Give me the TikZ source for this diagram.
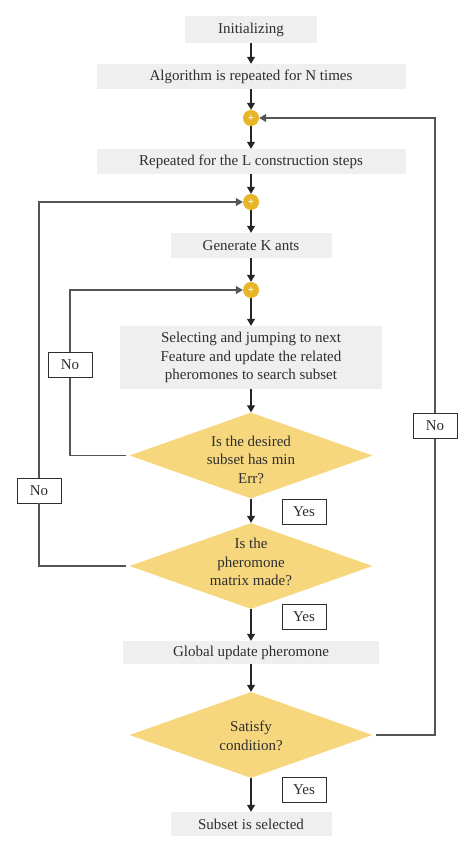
\documentclass[tikz,border=0pt]{standalone}
\usepackage{fontspec}
\setmainfont{Liberation Serif}
\usetikzlibrary{shapes.geometric,arrows.meta}
\definecolor{boxgray}{HTML}{EFEFEF}
\definecolor{diafill}{HTML}{F6D77E}
\definecolor{joingold}{HTML}{E8B527}
\definecolor{txtgray}{HTML}{2E2E2E}
\definecolor{linegray}{HTML}{555555}
\tikzset{
    procbox/.style={fill=boxgray, inner sep=0pt, text=txtgray, align=center},
    decision/.style={diamond, fill=diafill, inner sep=0pt, minimum width=243pt, minimum height=86pt},
    dtext/.style={text=txtgray, align=center},
    junction/.style={circle, fill=joingold, inner sep=0pt, minimum size=16pt, text=white, font=\bfseries\fontsize{11}{11}\selectfont},
    tag/.style={draw=txtgray, fill=white, line width=0.8pt, minimum width=44pt, minimum height=25pt, inner sep=0pt, text=txtgray},
    flow/.style={-{Triangle[width=8pt,length=7pt]}, line width=1.2pt, draw=black!85},
    back/.style={line width=1.2pt, draw=linegray},
}
\begin{document}
\begin{tikzpicture}[x=1pt, y=-1pt, font=\fontsize{15}{18.5}\selectfont]
    \useasboundingbox (0,0) rectangle (474,853);
    % main column
    \node[procbox, minimum width=132pt, minimum height=27pt] (init) at (251,29.5) {Initializing};
    \node[procbox, minimum width=309pt, minimum height=25pt] (rptn) at (251,76.5) {Algorithm is repeated for N times};
    \node[junction] (j1) at (251,118) {+};
    \node[procbox, minimum width=309pt, minimum height=25pt] (rptl) at (251,161.5) {Repeated for the L construction steps};
    \node[junction] (j2) at (251,202) {+};
    \node[procbox, minimum width=161pt, minimum height=25pt] (gen) at (251,245.5) {Generate K ants};
    \node[junction] (j3) at (251,290) {+};
    \node[procbox, minimum width=262pt, minimum height=63pt] (sel) at (251,357.5) {Selecting and jumping to next\\Feature and update the related\\pheromones to search subset};
    \node[decision, label={[dtext, yshift=-4pt]center:Is the desired\\subset has min\\Err?}] (d1) at (251,455.5) {};
    \node[decision, label={[dtext, yshift=4pt]center:Is the\\pheromone\\matrix made?}] (d2) at (251,566) {};
    \node[procbox, minimum width=256pt, minimum height=23pt] (glob) at (251,652.5) {Global update pheromone};
    \node[decision, label={[dtext, yshift=-1pt]center:Satisfy\\condition?}] (d3) at (251,735) {};
    \node[procbox, minimum width=161pt, minimum height=24pt] (done) at (251,824) {Subset is selected};
    % labels
    \node[tag] (no1) at (70,365) {No};
    \node[tag] (no2) at (39,490.5) {No};
    \node[tag] (no3) at (435,426) {No};
    \node[tag] (yes1) at (304,511.5) {Yes};
    \node[tag] (yes2) at (304,616.5) {Yes};
    \node[tag] (yes3) at (304,790) {Yes};
    % arrows down
    \draw[flow] (init) -- (rptn);
    \draw[flow] (rptn) -- (j1);
    \draw[flow] (j1) -- (rptl);
    \draw[flow] (rptl) -- (j2);
    \draw[flow] (j2) -- (gen);
    \draw[flow] (gen) -- (j3);
    \draw[flow] (j3) -- (sel);
    \draw[flow] (sel) -- (d1);
    \draw[flow] (d1) -- (d2);
    \draw[flow] (d2) -- (glob);
    \draw[flow] (glob) -- (d3);
    \draw[flow] (d3) -- (done);
    % loops back
    \draw[back] ([xshift=-3pt]d1.west) -| (no1.south);
    \draw[back, flow, draw=linegray] (no1.north) |- (j3);
    \draw[back] ([xshift=-3pt]d2.west) -| (no2.south);
    \draw[back, flow, draw=linegray] (no2.north) |- (j2);
    \draw[back] ([xshift=3pt]d3.east) -| (no3.south);
    \draw[back, flow, draw=linegray] (no3.north) |- (j1);
\end{tikzpicture}
\end{document}
